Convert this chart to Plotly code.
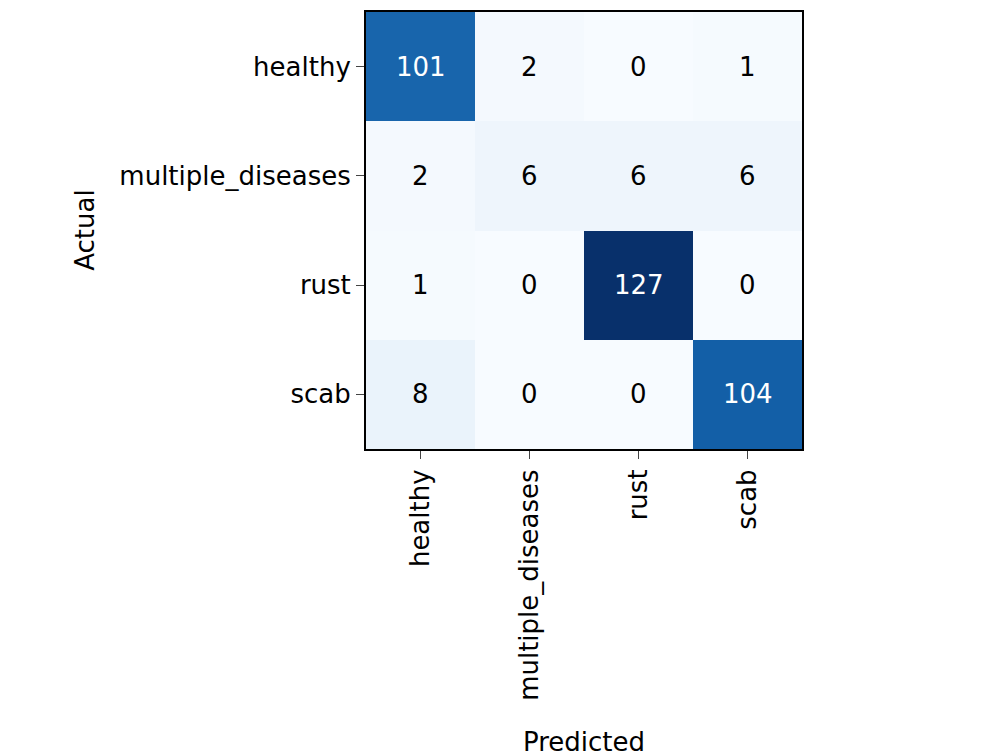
import plotly.graph_objects as go

labels = ["healthy", "multiple_diseases", "rust", "scab"]
matrix = [[101, 2, 0, 1],
          [2, 6, 6, 6],
          [1, 0, 127, 0],
          [8, 0, 0, 104]]

blues = [[0, "#f7fbff"], [0.125, "#deebf7"], [0.25, "#c6dbef"], [0.375, "#9ecae1"],
         [0.5, "#6baed6"], [0.625, "#4292c6"], [0.75, "#2171b5"], [0.875, "#08519c"], [1, "#08306b"]]

fig = go.Figure(go.Heatmap(z=matrix, x=labels, y=labels, colorscale=blues, showscale=False,
                           zmin=0, zmax=max(max(r) for r in matrix), hoverinfo="skip"))
mx = max(max(r) for r in matrix)
FS = 26
ann = []
for i, row in enumerate(matrix):
    for j, v in enumerate(row):
        ann.append(dict(x=labels[j], y=labels[i], text=str(v), showarrow=False,
                        font=dict(size=FS, color="white" if v > mx / 2 else "black")))
ann.append(dict(xref="paper", yref="paper", x=0.5, y=-0.67, yanchor="middle", text="Predicted",
                showarrow=False, font=dict(size=FS)))
ann.append(dict(xref="paper", yref="paper", x=-0.685, y=0.5, text="Actual", textangle=-90,
                showarrow=False, font=dict(size=FS)))
fig.update_layout(
    width=1000, height=751, margin=dict(l=358, r=206, t=2, b=310),
    paper_bgcolor="white", plot_bgcolor="white",
    font=dict(family="DejaVu Sans", size=FS, color="black"),
    annotations=ann,
)
fig.update_xaxes(tickangle=-90, ticks="outside", ticklen=8, showline=True, linecolor="black",
                 linewidth=2, mirror=True, showgrid=False, zeroline=False)
fig.update_yaxes(autorange="reversed", ticks="outside", ticklen=8, showline=True, linecolor="black",
                 linewidth=2, mirror=True, showgrid=False, zeroline=False)
fig.write_html("out.html")
